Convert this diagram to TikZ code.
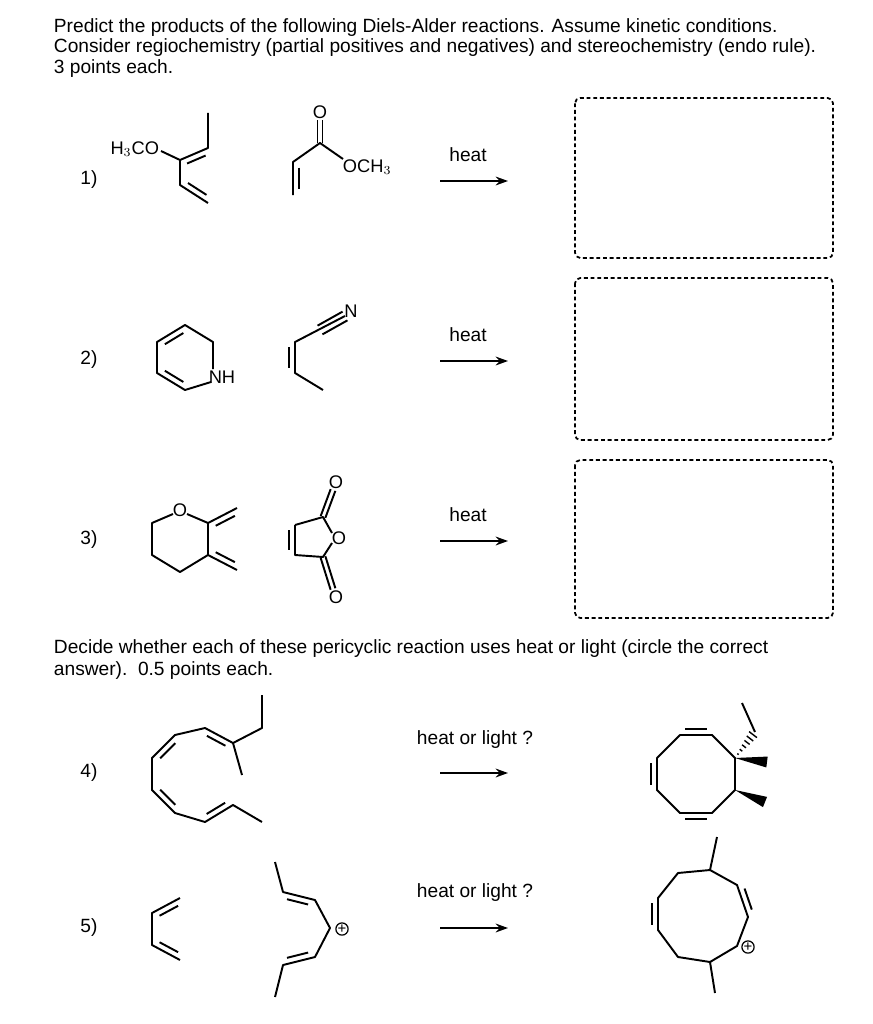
\documentclass[tikz,border=0pt]{standalone}
\usepackage{fontspec}
\setmainfont{Liberation Sans}
\usetikzlibrary{calc,arrows.meta}
\newcommand\db[3]{\draw ($(#1)!0.17!(#2)!0.12cm!#3:(#2)$) -- ($(#2)!0.17!(#1)!0.12cm!-#3:(#1)$);}
\newcommand\cdb[2]{\draw ($(#1)!0.05cm!90:(#2)$) -- ($(#2)!0.05cm!-90:(#1)$); \draw ($(#1)!0.05cm!-90:(#2)$) -- ($(#2)!0.05cm!90:(#1)$);}
\begin{document}
\begin{tikzpicture}[x=0.02cm,y=-0.02cm,line width=1.1pt,line join=round,
  txt/.style={font=\fontsize{10.9}{13}\selectfont,inner sep=0pt},
  atom/.style={font=\fontsize{10.4}{12}\selectfont,inner sep=0pt},
  box/.style={line width=1pt,dash pattern=on 2.2pt off 1.6pt,rounded corners=3pt},
  rxn/.style={-{Stealth[length=7pt,width=5pt]},line width=1.1pt}]
\useasboundingbox (0,0) rectangle (872,1024);
% heading
\node[txt,anchor=base west] (h1) at (53,33) {Predict the products of the following Diels-Alder reactions. Assume kinetic conditions.};
\node[txt,anchor=base west] (h2) at (53,53) {Consider regiochemistry (partial positives and negatives) and stereochemistry (endo rule).};
\node[txt,anchor=base west] (h3) at (53,73) {3 points each.};
\node[txt,anchor=base west] (p1) at (53,653) {Decide whether each of these pericyclic reaction uses heat or light (circle the correct};
\node[txt,anchor=base west] (p2) at (53,675) {answer).\ \ 0.5 points each.};
% labels
\foreach \l/\y in {1)/180,2)/360,3)/540,4)/773,5)/928}{\node[txt] at (89,\y) {\l};}
\foreach \y in {155,335,515}{\node[txt] at (468,\y) {heat};}
\node[txt] at (475,740) {heat or light ?};
\node[txt] at (475,893) {heat or light ?};
\foreach \y/\n in {181/a,361/b,541/c,773/d,928/e}{
 \coordinate (s\n) at (440,\y); \coordinate (t\n) at (508,\y); \draw[rxn] (s\n) -- (t\n);}
% boxes
\draw[box] (575,98) rectangle (833,258);
\draw[box] (575,278) rectangle (833,440);
\draw[box] (575,460) rectangle (833,618);
% molecule 1 diene
\node[atom,anchor=east] (ome) at (160,149) {H$_3$CO};
\coordinate (a1) at (180,160); \coordinate (a2) at (208,148); \coordinate (a3) at (208,113);
\coordinate (a4) at (180,185); \coordinate (a5) at (208,203);
\draw (161,151) -- (a1) -- (a2) -- (a3); \draw (a1) -- (a4) -- (a5);
\db{a1}{a2}{-90}\db{a4}{a5}{90}
% acrylate
\node[atom] (o1) at (320,112) {O};
\node[atom,anchor=west] (och) at (342,167) {OCH$_3$};
\coordinate (b1) at (320,143); \coordinate (b0) at (320,120); \coordinate (b2) at (343,159);
\coordinate (b3) at (293,162); \coordinate (b4) at (293,195);
\cdb{b1}{b0}
\draw (b2) -- (b1) -- (b3) -- (b4); \db{b3}{b4}{90}
% molecule 2: dihydropyridine
\node[atom] (nh) at (222,377) {NH};
\coordinate (c1) at (185,325); \coordinate (c2) at (213,342); \coordinate (c3) at (213,369);
\coordinate (c4) at (211,382); \coordinate (c5) at (185,390); \coordinate (c6) at (157,373); \coordinate (c7) at (157,342);
\draw (c3) -- (c2) -- (c1) -- (c7) -- (c6) -- (c5) -- (c4);
\db{c1}{c7}{90}\db{c6}{c5}{90}
% crotononitrile
\node[atom] (n1) at (351,311) {N};
\coordinate (d0) at (345,316); \coordinate (d1) at (320,330); \coordinate (d2) at (295,342);
\coordinate (d3) at (295,373); \coordinate (d4) at (323,390);
\draw (d0) -- (d2) -- (d3) -- (d4); \draw ($(d0)!0.1cm!90:(d1)$) -- ($(d1)!0.1cm!-90:(d0)$); \draw ($(d0)!0.1cm!-90:(d1)$) -- ($(d1)!0.1cm!90:(d0)$);
\db{d2}{d3}{-90}
% molecule 3
\node[atom] (o3) at (180,510) {O};
\coordinate (e1) at (208,523); \coordinate (e2) at (208,555); \coordinate (e3) at (180,572);
\coordinate (e4) at (152,555); \coordinate (e5) at (152,523); \coordinate (e6) at (237,508); \coordinate (e7) at (237,570);
\draw (187,514) -- (e1) -- (e2) -- (e3) -- (e4) -- (e5) -- (173,514);
\draw (e1) -- (e6); \draw (e2) -- (e7); \db{e1}{e6}{-90}\db{e2}{e7}{90}
% maleic anhydride
\node[atom] (o4) at (336,482) {O}; \node[atom] (o5) at (339,538) {O}; \node[atom] (o6) at (336,597) {O};
\coordinate (f1) at (323,517); \coordinate (f2) at (323,557); \coordinate (f3) at (295,525); \coordinate (f4) at (295,555);
\coordinate (f5) at (333,490); \coordinate (f6) at (333,589);
\draw (f3) -- (f1) -- (332,533); \draw (332,543) -- (f2) -- (f4) -- (f3);
\cdb{f1}{f5}\cdb{f2}{f6}\db{f3}{f4}{-90}
% molecule 4
\coordinate (g1) at (262,695); \coordinate (g2) at (262,728); \coordinate (g3) at (233,743); \coordinate (g4) at (242,775);
\coordinate (g5) at (205,728); \coordinate (g6) at (175,735); \coordinate (g7) at (152,758); \coordinate (g8) at (152,790);
\coordinate (g9) at (175,813); \coordinate (g10) at (205,822); \coordinate (g11) at (233,805); \coordinate (g12) at (262,822);
\draw (g1) -- (g2) -- (g3) -- (g4); \draw (g3) -- (g5) -- (g6) -- (g7) -- (g8) -- (g9) -- (g10) -- (g11) -- (g12);
\db{g3}{g5}{90}\db{g6}{g7}{90}\db{g8}{g9}{90}\db{g10}{g11}{90}
% butadiene
\coordinate (k1) at (180,898); \coordinate (k2) at (152,913); \coordinate (k3) at (152,945); \coordinate (k4) at (180,960);
\draw (k1) -- (k2) -- (k3) -- (k4); \db{k1}{k2}{90}\db{k3}{k4}{90}
% cation
\coordinate (m1) at (275,862); \coordinate (m2) at (283,892); \coordinate (m3) at (315,900); \coordinate (m4) at (330,928);
\coordinate (m5) at (315,957); \coordinate (m6) at (283,965); \coordinate (m7) at (275,997);
\draw (m1) -- (m2) -- (m3) -- (m4) -- (m5) -- (m6) -- (m7); \db{m2}{m3}{-90}\db{m5}{m6}{-90}
\node[circle,draw,line width=0.7pt,inner sep=0pt,minimum size=0.23cm,font=\fontsize{8.5}{8}\selectfont] (pl1) at (342,929) {+};
% product 4
\coordinate (q1) at (680,735); \coordinate (q2) at (712,735); \coordinate (q3) at (735,758); \coordinate (q4) at (735,790);
\coordinate (q5) at (712,813); \coordinate (q6) at (680,813); \coordinate (q7) at (657,790); \coordinate (q8) at (657,758);
\draw (q1) -- (q2) -- (q3) -- (q4) -- (q5) -- (q6) -- (q7) -- (q8) -- cycle;
\db{q1}{q2}{90}\db{q5}{q6}{90}\db{q7}{q8}{90}
\coordinate (q9) at (755,732); \coordinate (q10) at (742,703);
\draw (q9) -- (q10);
\foreach \t in {0.15,0.3,...,1.0}{\draw[line width=0.8pt] ($(q3)!\t!(q9)!{\t*0.11cm}!90:(q9)$) -- ($(q3)!\t!(q9)!{\t*0.11cm}!-90:(q9)$);}
\fill ($(767,762)!0.11cm!90:(q3)$) -- (q3) -- ($(767,762)!0.11cm!-90:(q3)$) -- cycle;
\fill ($(765,802)!0.11cm!90:(q4)$) -- (q4) -- ($(765,802)!0.11cm!-90:(q4)$) -- cycle;
% product 5
\coordinate (r0) at (717,837); \coordinate (r1) at (710,870); \coordinate (r2) at (737,885); \coordinate (r3) at (748,917);
\coordinate (r4) at (737,946); \coordinate (r5) at (710,962); \coordinate (r6) at (715,993); \coordinate (r7) at (678,957);
\coordinate (r8) at (658,930); \coordinate (r9) at (658,898); \coordinate (r10) at (678,873);
\draw (r0) -- (r1) -- (r2) -- (r3) -- (r4) -- (r5) -- (r7) -- (r8) -- (r9) -- (r10) -- (r1); \draw (r5) -- (r6);
\db{r2}{r3}{90}\db{r8}{r9}{90}
\node[circle,draw,line width=0.7pt,inner sep=0pt,minimum size=0.23cm,font=\fontsize{8.5}{8}\selectfont] (pl2) at (748,947) {+};
\end{tikzpicture}
\end{document}
